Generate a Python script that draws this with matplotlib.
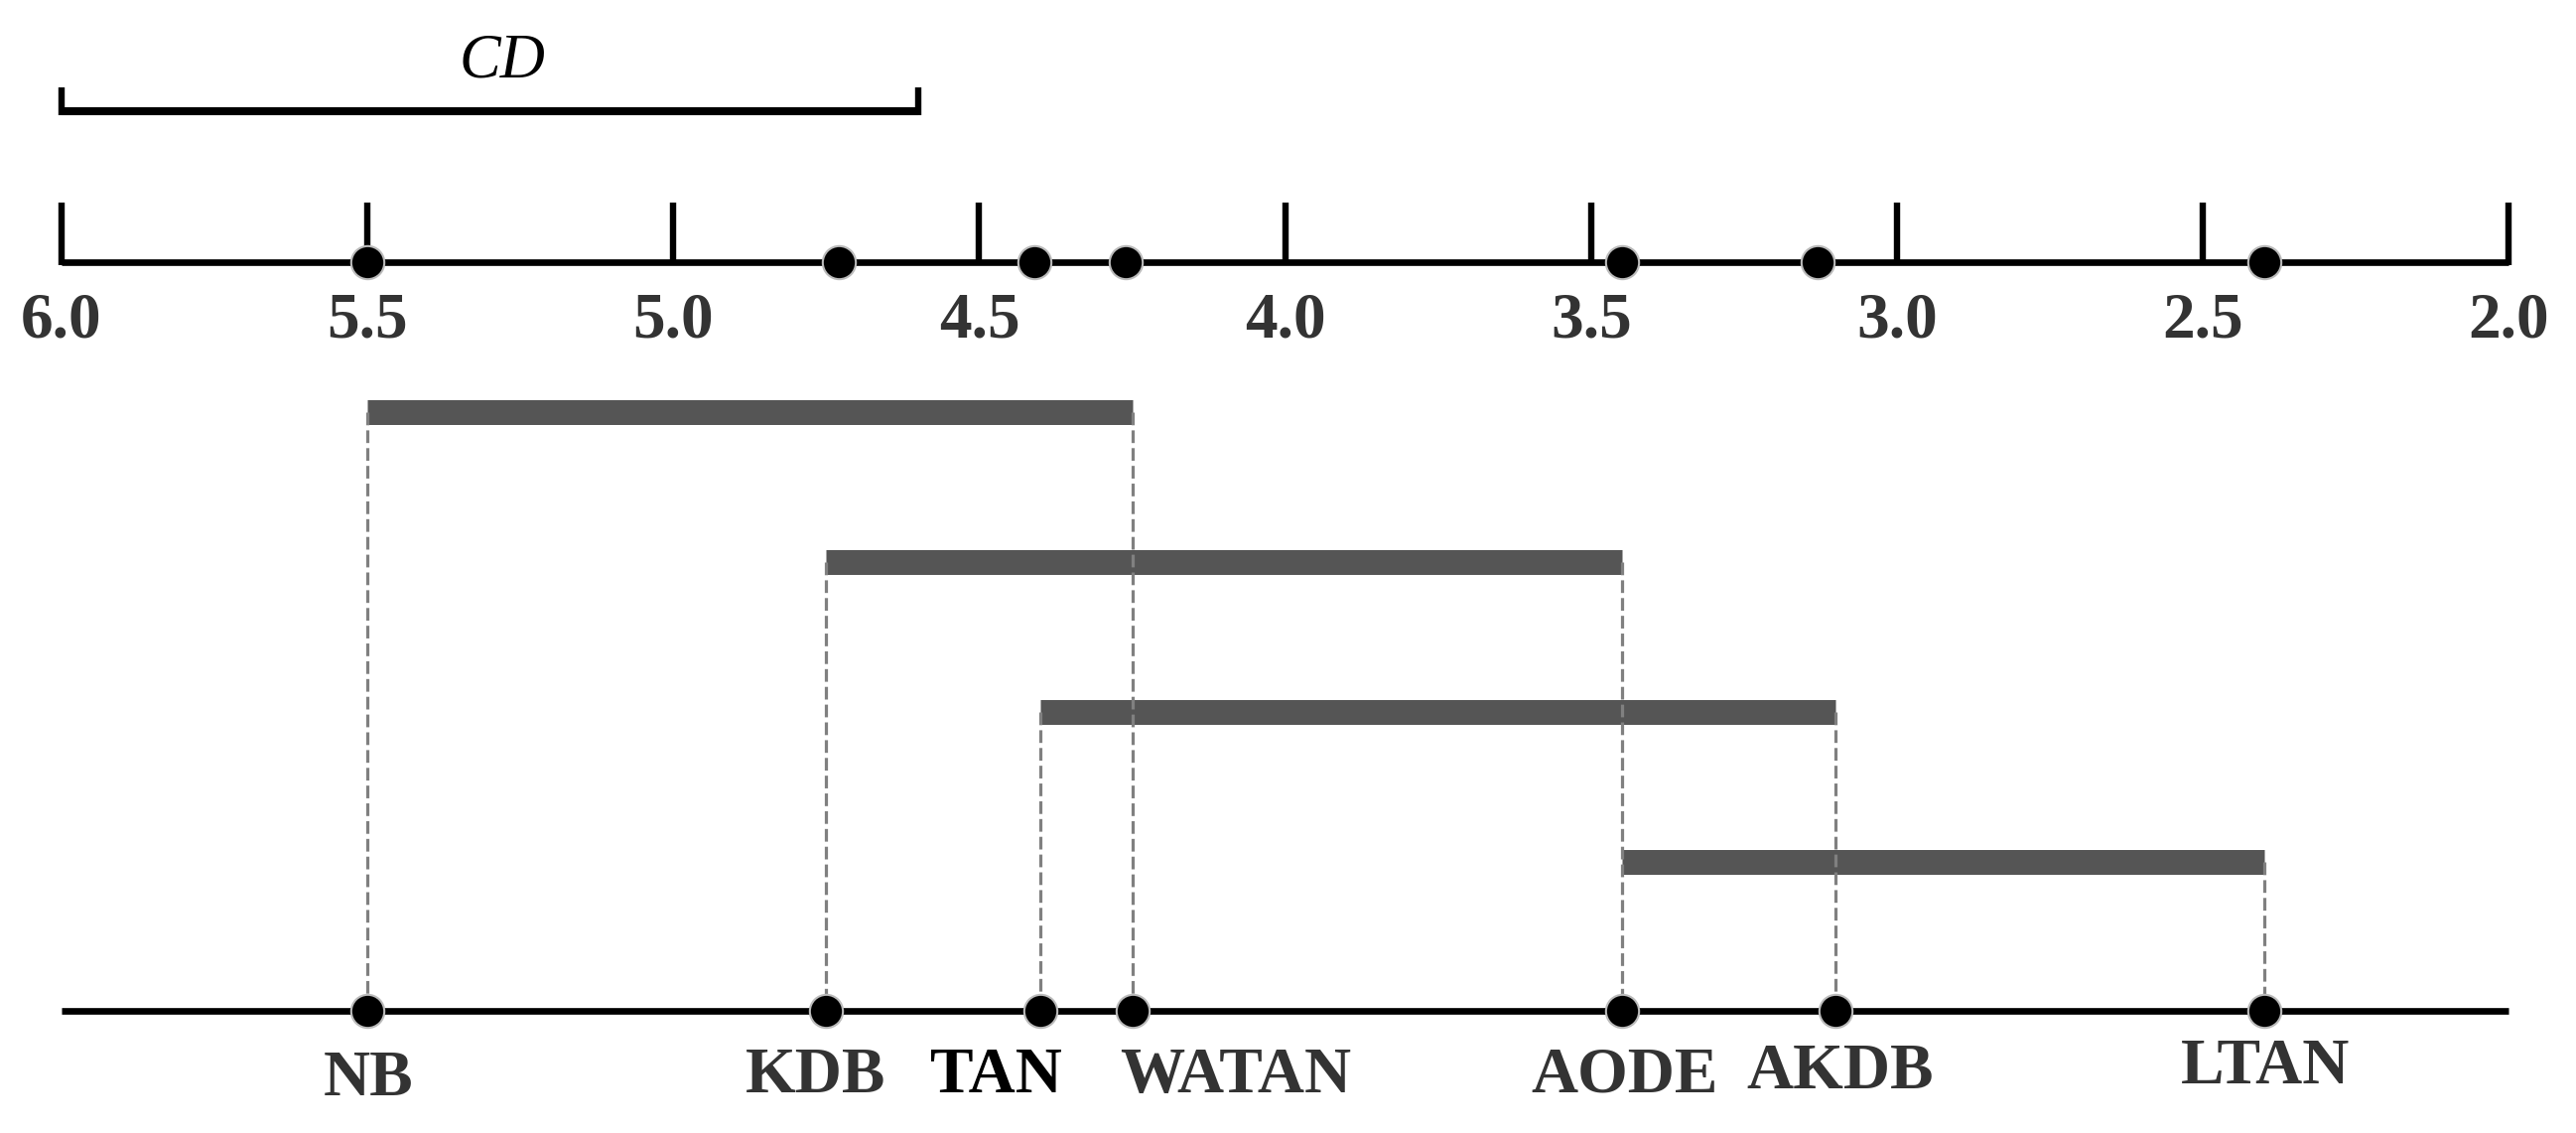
import matplotlib
matplotlib.use('Agg')
import matplotlib.pyplot as plt
import numpy as np

# average ranks (critical difference diagram)
methods = ['NB', 'KDB', 'TAN', 'WATAN', 'AODE', 'AKDB', 'LTAN']
avg_rank = [5.50, 4.73, 4.41, 4.26, 3.45, 3.13, 2.40]      # dots on the scale
rank_bottom = [5.50, 4.75, 4.40, 4.25, 3.45, 3.10, 2.40]   # dots on the lower line
cd = 1.40
cliques = [('NB', 'WATAN'), ('KDB', 'AODE'), ('TAN', 'AKDB'), ('AODE', 'LTAN')]
scale_ticks = [6.0, 5.5, 5.0, 4.5, 4.0, 3.5, 3.0, 2.5, 2.0]

W, H = 2595, 1141
fig = plt.figure(figsize=(W / 100, H / 100), dpi=100)
ax = fig.add_axes([0, 0, 1, 1])
ax.set_xlim(6.1006, 1.890)
ax.set_ylim(H, 0)
ax.axis('off')

serif = 'Liberation Serif'
lo, hi = max(scale_ticks), min(scale_ticks)

# CD bracket
y_cd = 112
ax.plot([lo, lo - cd], [y_cd, y_cd], color='black', lw=5.8, solid_capstyle='butt')
for xx in [lo, lo - cd]:
    ax.plot([xx, xx], [88, y_cd + 4], color='black', lw=4.6, solid_capstyle='butt')
ax.text(lo - cd / 2 - 0.02, 62, 'CD', fontsize=45, fontstyle='italic', family=serif,
        ha='center', va='center')

# top scale
y_top = 264
ax.plot([lo, hi], [y_top, y_top], color='black', lw=4.8, solid_capstyle='butt')
for t in scale_ticks:
    ax.plot([t, t], [204, y_top + 3], color='black', lw=4.6, solid_capstyle='butt')
    ax.text(t, 323, f'{t:.1f}', fontsize=47, fontweight='bold', family=serif,
            color='#333333', ha='center', va='center')
ax.plot(avg_rank, [y_top] * len(avg_rank), 'o', ms=24, mfc='black', mec='#bbbbbb',
        mew=1.5, ls='none', zorder=5)

# bottom line
y_bot = 1018
ax.plot([lo, hi], [y_bot, y_bot], color='black', lw=4.8, solid_capstyle='butt')

# clique bars + dashed drops
bar_y0, bar_step = 415, 151
top_y = {}
for i, (a, b) in enumerate(cliques):
    yb = bar_y0 + i * bar_step
    xa = rank_bottom[methods.index(a)]
    xb = rank_bottom[methods.index(b)]
    ax.plot([xa, xb], [yb, yb], color='#555555', lw=18, solid_capstyle='butt', zorder=3)
    for m in (a, b):
        top_y[m] = min(top_y.get(m, H), yb)
for m, yt in top_y.items():
    xm = rank_bottom[methods.index(m)]
    ax.plot([xm, xm], [yt, y_bot], color='#808080', lw=2.3, ls=(0, (4, 1.6)), zorder=4)

ax.plot(rank_bottom, [y_bot] * len(rank_bottom), 'o', ms=24, mfc='black', mec='#bbbbbb',
        mew=1.5, ls='none', zorder=5)

# method labels (a few nudged sideways so they do not collide)
shift_px = {'NB': 1, 'KDB': -11, 'TAN': -45, 'WATAN': 104, 'AODE': 3, 'AKDB': 4, 'LTAN': 1}
lift_px = {'NB': 0, 'KDB': -3, 'TAN': -3, 'WATAN': -3, 'AODE': -3, 'AKDB': -7, 'LTAN': -12}
for m, r in zip(methods, rank_bottom):
    col = 'black' if m == 'TAN' else '#333333'
    ax.annotate(m, (r, 1087), xytext=(shift_px[m] * 0.72, -lift_px[m] * 0.72),
                textcoords='offset points',
                fontsize=47, fontweight='bold', family=serif, color=col,
                ha='center', va='center')

fig.savefig('out.png', dpi=100)
